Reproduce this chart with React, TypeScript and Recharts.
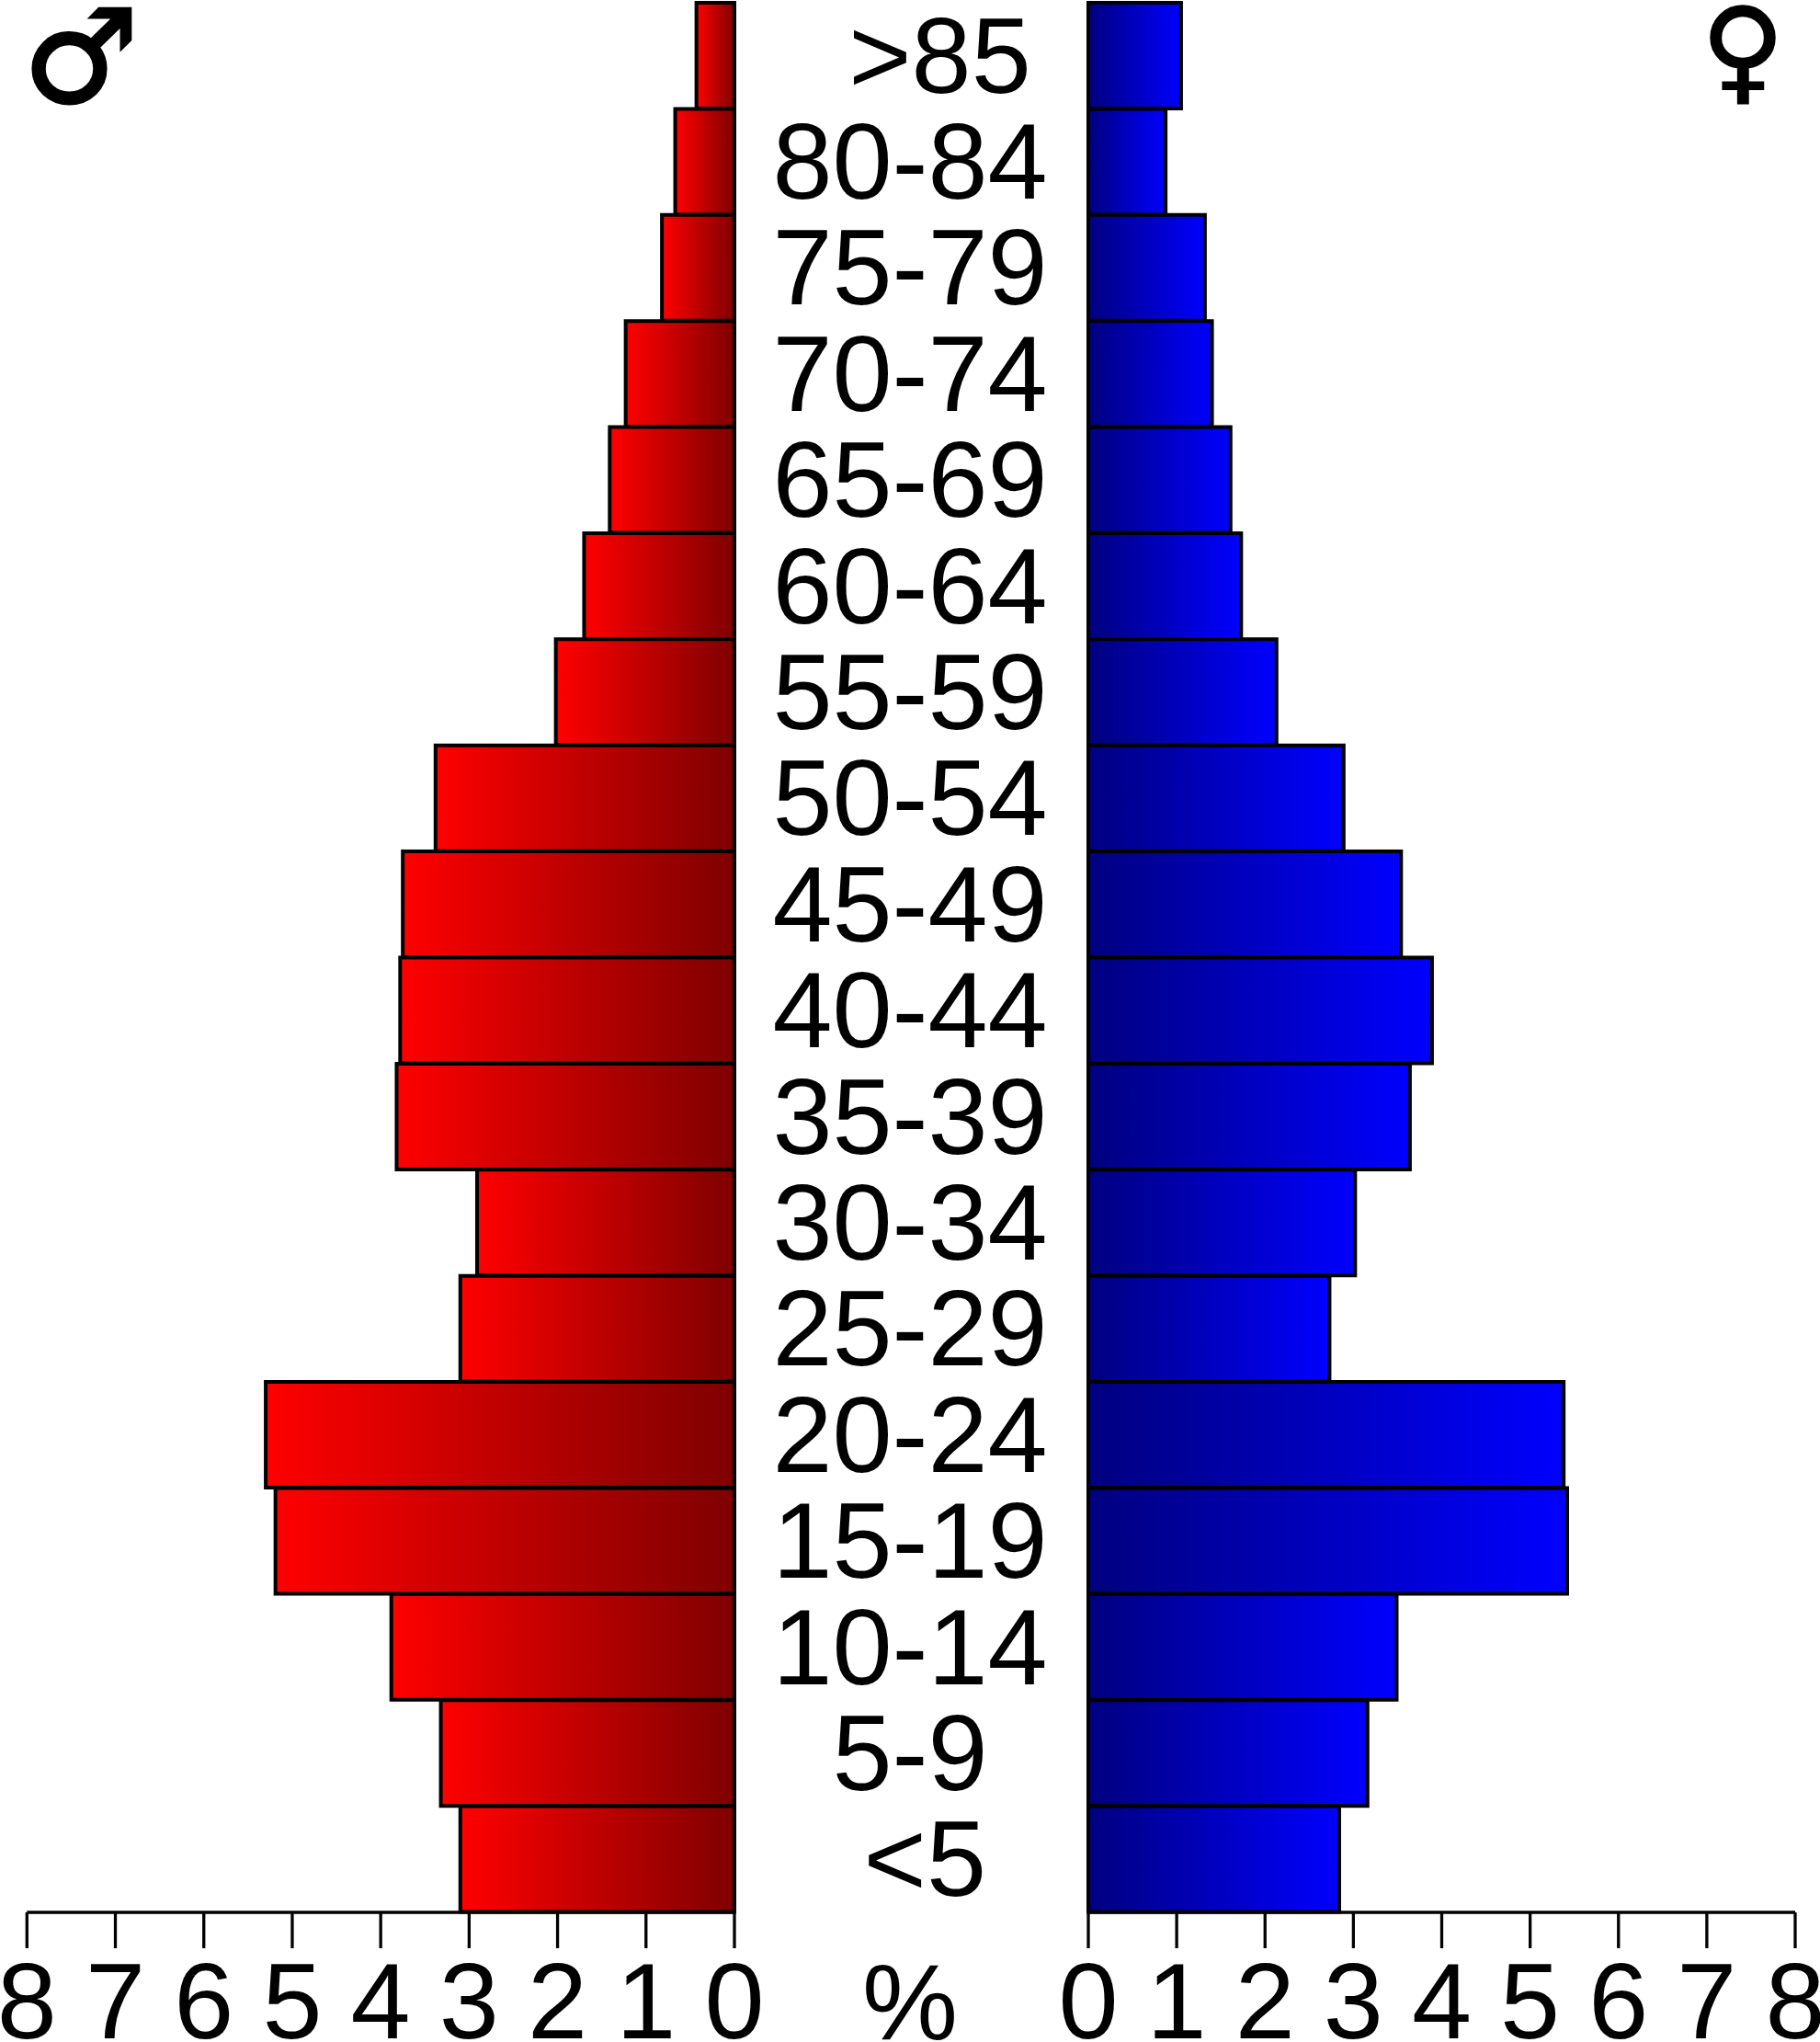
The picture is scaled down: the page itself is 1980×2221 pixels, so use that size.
import { BarChart, Bar, XAxis, YAxis } from 'recharts';

const ageGroups = [
  '\u00a0\u00a0>85', '80-84', '75-79', '70-74', '65-69', '60-64', '55-59', '50-54', '45-49',
  '40-44', '35-39', '30-34', '25-29', '20-24', '15-19', '10-14', '5-9', '\u00a0<5',
];
const maleValues = [0.43, 0.67, 0.82, 1.23, 1.41, 1.7, 2.02, 3.38, 3.75, 3.78, 3.82, 2.91, 3.1, 5.3, 5.19, 3.88, 3.32, 3.1];
const femaleValues = [1.05, 0.875, 1.32, 1.4, 1.61, 1.73, 2.13, 2.89, 3.54, 3.89, 3.64, 3.02, 2.73, 5.38, 5.42, 3.49, 3.16, 2.84];
const percentTicks = [0, 1, 2, 3, 4, 5, 6, 7, 8];

const data = ageGroups.map((age, i) => ({ age, male: maleValues[i], female: femaleValues[i] }));

const FONT = '"Liberation Sans", Arial, sans-serif';
const tickStyle = { fontSize: 117, fill: '#000', fontFamily: FONT };
const axisStroke = { stroke: '#000', strokeWidth: 3.3 };

const AgeTick = ({ y, payload }: any) => (
  <text x={990} y={y} dy={40} textAnchor="middle" fontSize={117} fontFamily={FONT} fill="#000">
    {payload.value}
  </text>
);

const App = () => {
  return (
    <div style={{ position: 'absolute', left: 0, top: 0, width: 1980, height: 2221, background: '#fff' }}>
      <div style={{ position: 'absolute', left: 0, top: 0 }}>
        <BarChart width={1980} height={2221} data={data} layout="vertical" barCategoryGap={0}
          margin={{ top: 3, right: 27, bottom: 0, left: 0 }}>
          <defs>
            <linearGradient id="femaleFill" x1="0" y1="0" x2="1" y2="0">
              <stop offset="0%" stopColor="#00007f" />
              <stop offset="100%" stopColor="#0000ff" />
            </linearGradient>
          </defs>
          <XAxis type="number" domain={[0, 8]} ticks={percentTicks} interval={0} height={141}
            tickSize={39} tickMargin={15} tick={tickStyle} axisLine={axisStroke} tickLine={axisStroke} />
          <YAxis type="category" dataKey="age" width={1184} interval={0} tick={<AgeTick />}
            axisLine={false} tickLine={false} />
          <Bar dataKey="female" fill="url(#femaleFill)" stroke="#000" strokeWidth={4} isAnimationActive={false} />
          <text x={990} y={2218} textAnchor="middle" fontSize={117} fontFamily={FONT} fill="#000">%</text>
          <text x={1896} y={97} textAnchor="middle" fontSize={124} fontFamily="DejaVu Sans" fill="#000" stroke="#000" strokeWidth={2}>♀</text>
        </BarChart>
      </div>
      <div style={{ position: 'absolute', left: 0, top: 0 }}>
        <BarChart width={900} height={2221} data={data} layout="vertical" barCategoryGap={0}
          margin={{ top: 3, right: 101, bottom: 0, left: 29.3 }}>
          <defs>
            <linearGradient id="maleFill" x1="0" y1="0" x2="1" y2="0">
              <stop offset="0%" stopColor="#ff0000" />
              <stop offset="100%" stopColor="#7f0000" />
            </linearGradient>
          </defs>
          <XAxis type="number" domain={[0, 8]} reversed ticks={percentTicks} interval={0} height={141}
            tickSize={39} tickMargin={15} tick={tickStyle} axisLine={axisStroke} tickLine={axisStroke} />
          <YAxis type="category" dataKey="age" hide />
          <Bar dataKey="male" fill="url(#maleFill)" stroke="#000" strokeWidth={4} isAnimationActive={false} />
          <text x={88} y={111} textAnchor="middle" fontSize={141} fontFamily="DejaVu Sans" fill="#000" stroke="#000" strokeWidth={3}>♂</text>
        </BarChart>
      </div>
    </div>
  );
};

export default App;
